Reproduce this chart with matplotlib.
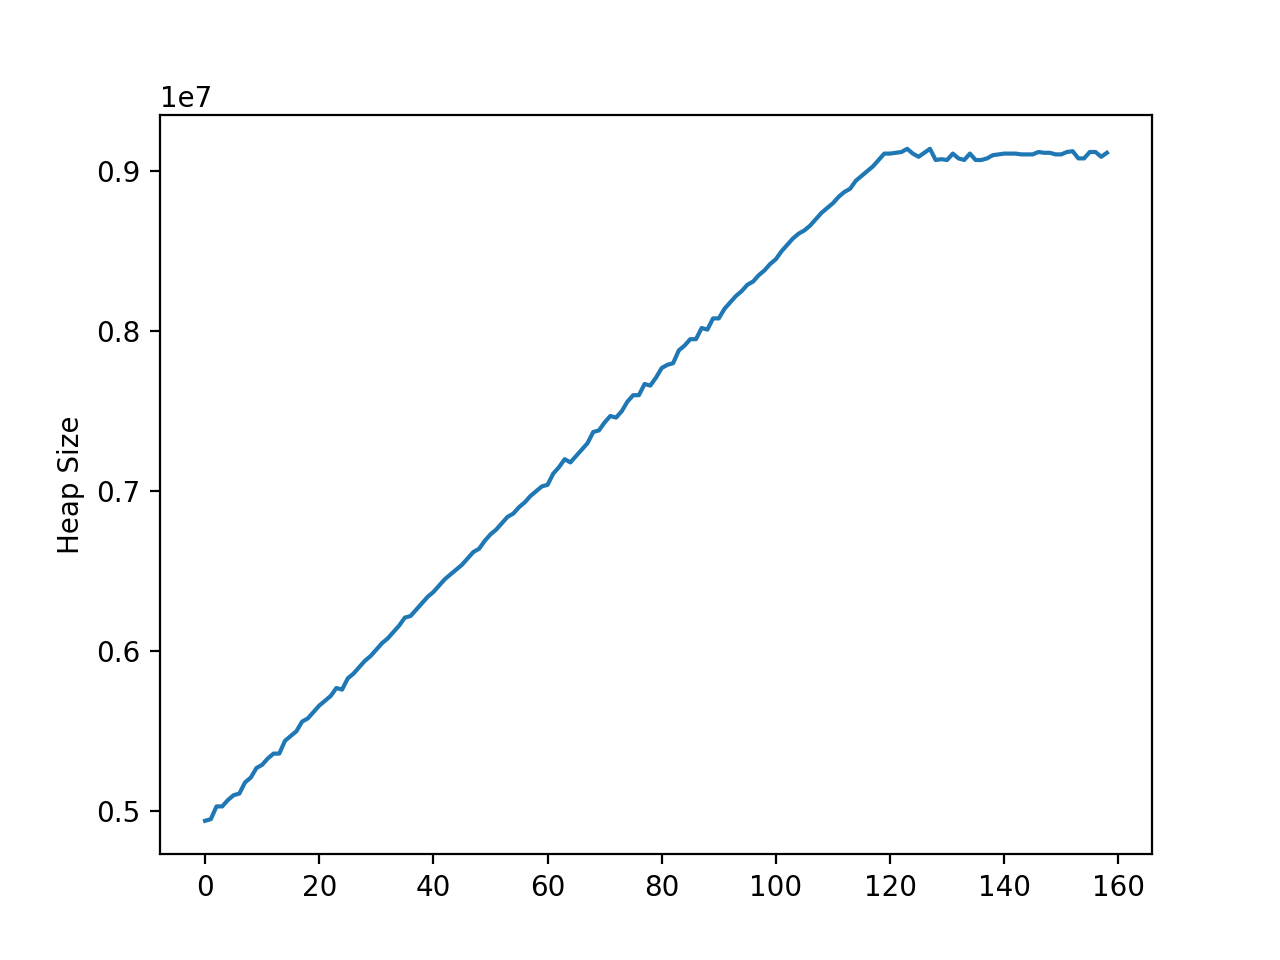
import matplotlib
matplotlib.use('Agg')
import matplotlib.pyplot as plt

# heap size samples, in millions of bytes
heap_mb = [
    4.94, 4.95, 5.03, 5.03, 5.07, 5.10, 5.11, 5.18, 5.21, 5.27,
    5.29, 5.33, 5.36, 5.36, 5.44, 5.47, 5.50, 5.56, 5.58, 5.62,
    5.66, 5.69, 5.72, 5.77, 5.76, 5.83, 5.86, 5.90, 5.94, 5.97,
    6.01, 6.05, 6.08, 6.12, 6.16, 6.21, 6.22, 6.26, 6.30, 6.34,
    6.37, 6.41, 6.45, 6.48, 6.51, 6.54, 6.58, 6.62, 6.64, 6.69,
    6.73, 6.76, 6.80, 6.84, 6.86, 6.90, 6.93, 6.97, 7.00, 7.03,
    7.04, 7.11, 7.15, 7.20, 7.18, 7.22, 7.26, 7.30, 7.37, 7.38,
    7.43, 7.47, 7.46, 7.50, 7.56, 7.60, 7.60, 7.67, 7.66, 7.71,
    7.77, 7.79, 7.80, 7.88, 7.91, 7.95, 7.95, 8.02, 8.01, 8.08,
    8.08, 8.14, 8.18, 8.22, 8.25, 8.29, 8.31, 8.35, 8.38, 8.42,
    8.45, 8.50, 8.54, 8.58, 8.61, 8.63, 8.66, 8.70, 8.74, 8.77,
    8.80, 8.84, 8.87, 8.89, 8.94, 8.97, 9.00, 9.03, 9.07, 9.11,
    9.11, 9.115, 9.12, 9.14, 9.11, 9.09, 9.115, 9.14, 9.07, 9.075,
    9.07, 9.11, 9.08, 9.07, 9.11, 9.07, 9.07, 9.08, 9.10, 9.105,
    9.11, 9.11, 9.11, 9.105, 9.105, 9.105, 9.12, 9.115, 9.115, 9.105,
    9.105, 9.12, 9.125, 9.08, 9.08, 9.12, 9.12, 9.09, 9.115,
]
heap = [v * 1e6 for v in heap_mb]

fig, ax = plt.subplots(figsize=(6.4, 4.8), dpi=200)
ax.plot(heap)
ax.set_ylabel('Heap Size')
# reference shows the offset as 1e7 with 0.5 ... 0.9 ticks
ax.ticklabel_format(axis='y', style='sci', scilimits=(7, 7))

fig.savefig('out.png')
